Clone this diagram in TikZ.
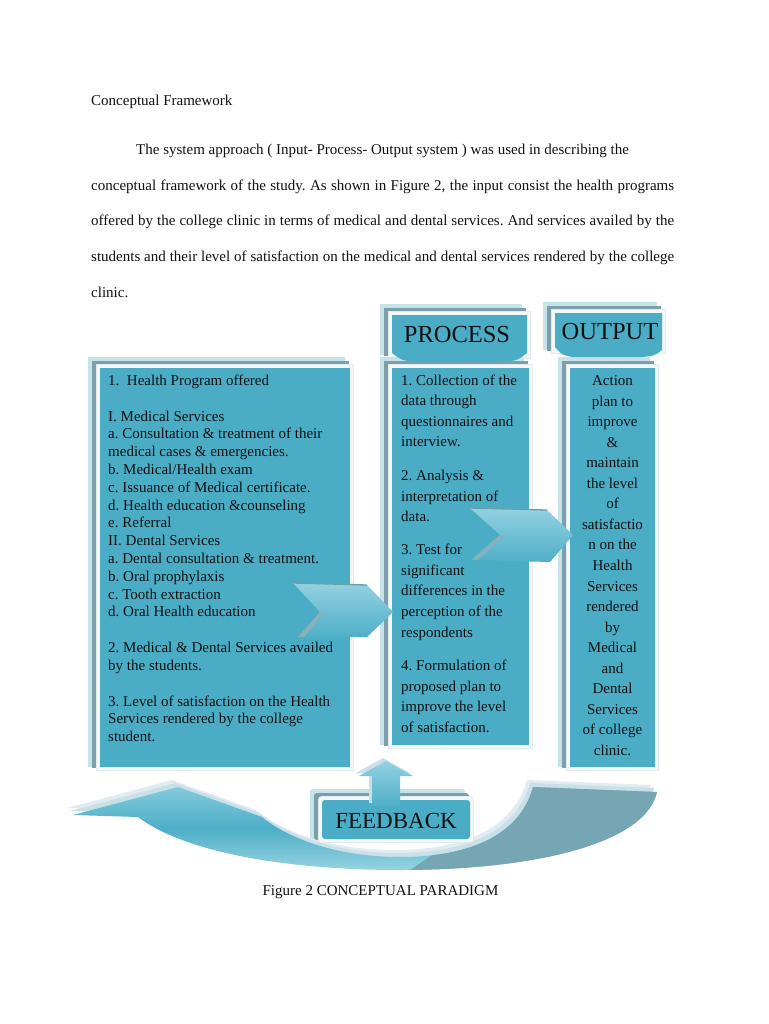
\documentclass[tikz,border=0pt]{standalone}
\usepackage{fontspec}
\setmainfont{Liberation Serif}
\AtBeginDocument{\frenchspacing}
\definecolor{teal1}{HTML}{4BACC6}
\definecolor{frlight}{HTML}{C6E2EA}
\definecolor{frdark}{HTML}{7C9FAA}
\definecolor{frglow}{HTML}{F3F7F8}
\definecolor{glowedge}{HTML}{E2EBEE}
\definecolor{arrdark}{HTML}{76A6B3}
\definecolor{arrA}{HTML}{86CCDD}
\definecolor{arrB}{HTML}{4DAEC7}
\definecolor{arrC}{HTML}{9AD5E3}
\definecolor{chevtop}{HTML}{93D1E1}
\definecolor{chevmid}{HTML}{5DB7CE}
\definecolor{chevbot}{HTML}{4FAFC8}
\definecolor{chevline}{HTML}{6C9DAA}
\definecolor{layer}{HTML}{C9E0E7}
\definecolor{ink}{HTML}{111111}
\newcommand\bodyfont{\fontsize{15}{18}\selectfont}
\newcommand\headfont{\fontsize{24.5}{28}\selectfont}
% frame layers behind a teal box: x0 y0 x1 y1
\newcommand\myframe[4]{%
  \fill[frlight] (#1-12,#2-11) rectangle (#3-5,#4);
  \fill[frdark] (#1-8,#2-7) rectangle (#3-1,#4+1);
  \fill[frglow,draw=glowedge,line width=0.6pt] (#1-3.5,#2-3.5) rectangle (#3+3.5,#4+3.5);
}
\newcommand\tealbox[5]{%
  \myframe{#2}{#3}{#4}{#5}
  \node[boxnode,minimum width={#4-#2},minimum height={#5-#3},anchor=north west] (#1) at (#2,#3) {};
}
\tikzset{
  boxnode/.style={fill=teal1,draw=none,inner sep=0pt,outer sep=0pt},
  txt/.style={anchor=base west,inner sep=0pt,font=\bodyfont,text=ink},
  ctxt/.style={anchor=base,inner sep=0pt,font=\bodyfont,text=ink},
  headtxt/.style={anchor=center,inner sep=0pt,font=\headfont,text=ink},
  chevron/.style={top color=chevtop,middle color=chevmid,bottom color=chevbot},
}
\begin{document}
\begin{tikzpicture}[x=1pt,y=-1pt]
\useasboundingbox (0,0) rectangle (768,1024);
\fill[white] (0,0) rectangle (768,1024);

% ---------- body text ----------
\node[txt] (title) at (91,105.5) {Conceptual Framework};
\node[txt] (p1) at (136,154.5) {The system approach ( Input- Process- Output system ) was used in describing the};
\node[txt] (p2) at (91,190.5) {\makebox[583pt][s]{conceptual framework of the study. As shown in Figure 2, the input consist the health programs}};
\node[txt] (p3) at (91,225.5) {\makebox[583pt][s]{offered by the college clinic in terms of medical and dental services. And services availed by the}};
\node[txt] (p4) at (91,261.5) {\makebox[583pt][s]{students and their level of satisfaction on the medical and dental services rendered by the college}};
\node[txt] (p5) at (91,297.5) {clinic.};

% ---------- big feedback arrow ----------
\def\bigarrow{(73,815) -- (138,817) .. controls (190,856) and (300,870) .. (400,870) .. controls (530,870) and (645,845) .. (657,792) -- (533,787) .. controls (520,835) and (470,857) .. (400,857) .. controls (340,857) and (290,840) .. (262,817) -- (178,787) -- cycle}
\fill[layer!60] [shift={(-6,-7)}] \bigarrow;
\fill[layer] [shift={(-3,-4)}] \bigarrow;
\begin{scope}
  \clip \bigarrow;
  \shade[top color=arrA, bottom color=arrC, middle color=arrB] (60,785) rectangle (700,872);
  \fill[arrdark] (458,838) -- (520,780) -- (700,780) -- (700,880) -- (395,880) -- cycle;
\end{scope}

% ---------- input box ----------
\tealbox{input}{100}{368}{350}{767}
\node[txt] (in0) at (108,385) {1.\ \ Health Program offered};
\foreach \t [count=\i from 0] in {
  {I. Medical Services},
  {a. Consultation \& treatment of their},
  {medical cases \& emergencies.},
  {b. Medical/Health exam},
  {c. Issuance of Medical certificate.},
  {d. Health education \&counseling},
  {e. Referral},
  {II. Dental Services},
  {a. Dental consultation \& treatment.},
  {b. Oral prophylaxis},
  {c. Tooth extraction},
  {d. Oral Health education}}
  \node[txt] (inA\i) at (108,{421+17.8*\i}) {\t};
\foreach \t [count=\i from 0] in {
  {2. Medical \& Dental Services availed},
  {by the students.}}
  \node[txt] (inB\i) at (108,{652.5+17.8*\i}) {\t};
\foreach \t [count=\i from 0] in {
  {3. Level of satisfaction on the Health},
  {Services rendered by the college},
  {student.}}
  \node[txt] (inC\i) at (108,{706+17.8*\i}) {\t};

% ---------- process ----------
\myframe{392}{315}{527}{355}
\tealbox{process}{392}{368}{529}{745}
\fill[teal1] (392,315) -- (527,315) -- (527,353) .. controls (518,360) .. (505,362) -- (414,362) .. controls (401,360) .. (392,353) -- cycle;
\node[headtxt] (prochead) at (457,335) {PROCESS};
\foreach \t [count=\i from 0] in {
  {1. Collection of the},{data through},{questionnaires and},{interview.}}
  \node[txt] (prA\i) at (401,{385.5+20.3*\i}) {\t};
\foreach \t [count=\i from 0] in {
  {2. Analysis \&},{interpretation of},{data.}}
  \node[txt] (prB\i) at (401,{480.5+20.6*\i}) {\t};
\foreach \t [count=\i from 0] in {
  {3. Test for},{significant},{differences in the},{perception of the},{respondents}}
  \node[txt] (prC\i) at (401,{554.5+20.7*\i}) {\t};
\foreach \t [count=\i from 0] in {
  {4. Formulation of},{proposed plan to},{improve the level},{of satisfaction.}}
  \node[txt] (prD\i) at (401,{670.5+20.7*\i}) {\t};

% ---------- output ----------
\myframe{555}{313}{662}{350}
\tealbox{output}{570}{368}{655}{767}
\fill[teal1] (555,313) -- (662,313) -- (662,350) .. controls (654,356) .. (642,357) -- (572,357) .. controls (562,355) .. (555,347) -- cycle;
\node[headtxt] (outhead) at (610,332) {OUTPUT};
\foreach \t [count=\i from 0] in {
  Action,plan to,improve,\&,maintain,the level,of,satisfactio,n on the,Health,
  Services,rendered,by,Medical,and,Dental,Services,of college,clinic.}
  \node[ctxt] (ou\i) at (612.5,{385.5+20.55*\i}) {\t};

% ---------- chevron arrows ----------
\shade[chevron] (293,583) -- (367,585) -- (393,612) -- (367,637) -- (298,637) -- (320,612) -- cycle;
\draw[chevline,line width=1.3pt] (293,583) -- (367,585);
\fill[chevline!80] (320,612) -- (298,637) -- (304,637) -- (325,612) -- cycle;
\shade[chevron] (470,508) -- (547,510) -- (573,535) -- (550,562) -- (470,560) -- (500,535) -- cycle;
\draw[chevline,line width=1.3pt] (470,508) -- (547,510);
\fill[chevline!80] (500,535) -- (472,560) -- (478,560) -- (505,535) -- cycle;

% ---------- feedback ----------
\fill[frlight,rounded corners=3pt] (310,789) rectangle (465,839);
\fill[frdark,rounded corners=3pt] (314,793) rectangle (469,840);
\fill[frglow,draw=glowedge,line width=0.6pt,rounded corners=3pt] (318.5,796.5) rectangle (473.5,842.5);
\node[boxnode,rounded corners=3pt,minimum width=148pt,minimum height=39pt,anchor=north west] (feedback) at (322,800) {};
\node[headtxt,font=\fontsize{23}{27}\selectfont] (fblabel) at (396,821) {FEEDBACK};
\fill[layer] [shift={(-3,-3)}] (386,761) -- (413,776) -- (400,776) -- (400,806) -- (372,806) -- (372,776) -- (359,776) -- cycle;
\shade[top color=chevtop,bottom color=chevbot] (386,761) -- (413,776) -- (400,776) -- (400,806) -- (372,806) -- (372,776) -- (359,776) -- cycle;

% ---------- caption ----------
\node[ctxt] (caption) at (380.5,895) {Figure 2 CONCEPTUAL PARADIGM};
\end{tikzpicture}
\end{document}
